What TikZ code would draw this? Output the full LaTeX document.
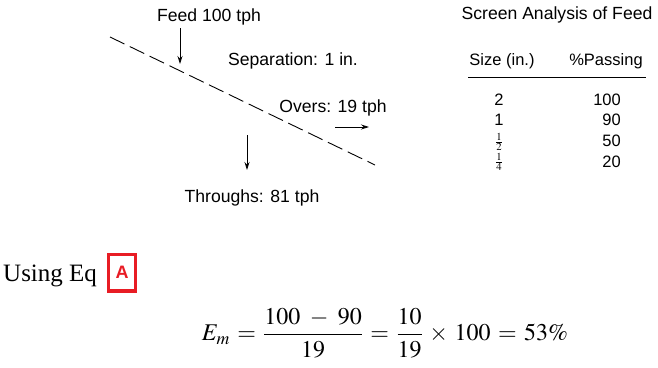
\documentclass[tikz,border=0pt]{standalone}
\usepackage{mathptmx}
\usepackage{fontspec}
\setmainfont{Liberation Serif}
\newfontfamily\sansf{Liberation Sans}
\usetikzlibrary{arrows.meta}
\definecolor{boxred}{RGB}{232,28,36}
\tikzset{
  lbl/.style={font=\sansf\fontsize{17.6}{20}\selectfont, inner sep=0pt, anchor=base},
  flow/.style={-{Stealth[length=8pt,width=5pt]}, line width=0.8pt},
  screenline/.style={dash pattern=on 16pt off 6pt, line width=0.9pt},
  cell/.style={font=\sansf\fontsize{16.5}{19}\selectfont, inner sep=0pt, anchor=base},
  fraccell/.style={font=\fontsize{14.5}{16}\selectfont, inner sep=0pt},
}
\begin{document}
\begin{tikzpicture}[x=1pt,y=-1pt]
\useasboundingbox (0,0) rectangle (658,367);
% screen
\coordinate (s1) at (110,37);
\coordinate (s2) at (375,165);
\draw[screenline] (s1) -- (s2);
% labels
\node[lbl] (feed) at (209,21) {Feed 100 tph};
\coordinate (f1) at (180,28);
\coordinate (f2) at (180,64);
\draw[flow] (f1) -- (f2);
\node[lbl] (sep) at (293,65) {Separation: 1 in.};
\node[lbl] (overs) at (333,112) {Overs: 19 tph};
\coordinate (o1) at (335,127);
\coordinate (o2) at (369,127);
\draw[flow] (o1) -- (o2);
\coordinate (t1) at (247,135);
\coordinate (t2) at (247,170);
\draw[flow] (t1) -- (t2);
\node[lbl] (thr) at (252,202) {Throughs: 81 tph};
% table
\node[lbl] (title) at (557,19) {Screen Analysis of Feed};
\node[cell] (hsize) at (502,65) {Size\ (in.)};
\node[cell] (hpass) at (606,65) {\%Passing};
\coordinate (r1) at (468,77);
\coordinate (r2) at (646,77);
\draw[line width=0.9pt] (r1) -- (r2);
\node[cell] (a1) at (499,105) {2};
\node[cell] (a2) at (499,125) {1};
\node[fraccell] (a3) at (499,142) {$\frac12$};
\node[fraccell] (a4) at (499,162) {$\frac14$};
\node[cell, anchor=base east] (b1) at (621,105) {100};
\node[cell, anchor=base east] (b2) at (621,125) {90};
\node[cell, anchor=base east] (b3) at (621,146) {50};
\node[cell, anchor=base east] (b4) at (621,167) {20};
% using eq
\node[font=\fontsize{25}{29}\selectfont, inner sep=0pt, anchor=base west] (using) at (3,281) {Using Eq};
\node[draw=boxred, line width=3.5pt, minimum width=27pt, minimum height=36.5pt, inner sep=0pt,
      text=boxred, font=\sansf\bfseries\fontsize{18}{22}\selectfont] (eqref) at (122,272.5) {A};
% equation
\node[font=\fontsize{24}{28}\selectfont, inner sep=0pt] (eq) at (385,333)
  {$\medmuskip=5mu plus 2mu\thickmuskip=5.5mu plus 3mu\displaystyle E_m = \frac{100\,-\,90}{19} = \frac{10}{19}\times 100 = 53\%$};
\end{tikzpicture}
\end{document}
